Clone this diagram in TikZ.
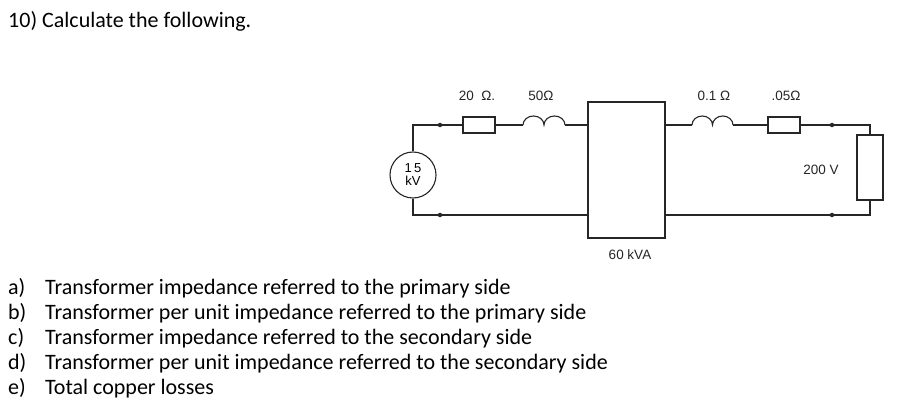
\documentclass[tikz,border=0pt]{standalone}
\usepackage{fontspec}
\setmainfont{Carlito}
\newfontfamily\arialf{Liberation Sans}
\usetikzlibrary{decorations.pathmorphing}
\begin{document}
\begin{tikzpicture}[x=1pt,y=-1pt,
  wire/.style={line width=1.1pt,black!85},
  part/.style={draw=black!85,line width=1.1pt,fill=white},
  lbl/.style={font=\arialf\fontsize{13.5}{15}\selectfont,text=black!85},
  dot/.style={circle,fill=black!85,inner sep=0pt,minimum size=4.5pt},
  txt/.style={font=\fontsize{22}{25}\selectfont,anchor=base west,inner sep=0pt}]
\useasboundingbox (0,0) rectangle (910,414);
\node[txt] (title) at (8,28) {10)\ Calculate the following.};
\coordinate (tl) at (413,125); \coordinate (bl) at (413,215);
\node[dot] (d1) at (440,125) {}; \node[dot] (d2) at (440,215) {};
\node[dot] (d3) at (832,125) {}; \node[dot] (d4) at (832,215) {};
\coordinate (tr) at (870,125); \coordinate (br) at (870,215);
\node[part,minimum width=77pt,minimum height=136pt,inner sep=0pt] (T) at (626.5,170) {};
\node[part,minimum width=32pt,minimum height=16pt,inner sep=0pt] (R1) at (479,125) {};
\node[part,minimum width=32pt,minimum height=16pt,inner sep=0pt] (R2) at (784,125) {};
\node[part,minimum width=26pt,minimum height=65pt,inner sep=0pt] (RL) at (870,167.5) {};
\node[part,circle,minimum size=46pt,inner sep=0pt,align=center,font=\arialf\fontsize{13}{13}\selectfont] (V) at (413,175) {1\,5\\kV};
\coordinate (L1a) at (523,125); \coordinate (L1b) at (565,125);
\coordinate (L2a) at (692,125); \coordinate (L2b) at (733,125);
\draw[wire] (V.north) -- (tl) -- (d1) -- (R1.west);
\draw[wire] (R1.east) -- (L1a);
\draw[wire] (L1a) arc[start angle=180,end angle=0,x radius=10.5pt,y radius=9pt] arc[start angle=180,end angle=0,x radius=10.5pt,y radius=9pt];
\draw[wire] (L1b) -- (T.west|-L1b);
\draw[wire] (T.east|-L2a) -- (L2a);
\draw[wire] (L2a) arc[start angle=180,end angle=0,x radius=10.25pt,y radius=9pt] arc[start angle=180,end angle=0,x radius=10.25pt,y radius=9pt];
\draw[wire] (L2b) -- (R2.west);
\draw[wire] (R2.east) -- (d3) -- (tr) -- (RL.north);
\draw[wire] (V.south) -- (bl) -- (d2) -- (T.west|-bl);
\draw[wire] (T.east|-br) -- (d4) -- (br) -- (RL.south);
\node[lbl] (l1) at (477,96) {20\ \ Ω.};
\node[lbl] (l2) at (541,96) {50Ω};
\node[lbl] (l3) at (714,96) {0.1 Ω};
\node[lbl] (l4) at (786,96) {.05Ω};
\node[lbl] (l5) at (821,170) {200 V};
\node[lbl] (l6) at (630,255) {60 kVA};
\foreach \k/\t [count=\i] in {a/Transformer impedance referred to the primary side,
 b/Transformer per unit impedance referred to the primary side,
 c/Transformer impedance referred to the secondary side,
 d/Transformer per unit impedance referred to the secondary side,
 e/Total copper losses}{
  \node[txt] (k\i) at (8,269+25*\i) {\k)};
  \node[txt] (t\i) at (45,269+25*\i) {\t};
}
\end{tikzpicture}
\end{document}
